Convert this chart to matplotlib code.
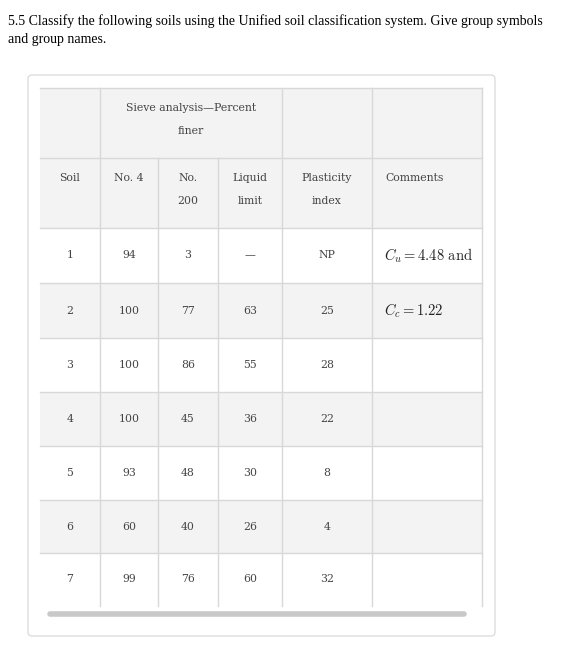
import matplotlib.pyplot as plt
from matplotlib.patches import Rectangle, FancyBboxPatch

soils = ['1', '2', '3', '4', '5', '6', '7']
no4 = ['94', '100', '100', '100', '93', '60', '99']
no200 = ['3', '77', '86', '45', '48', '40', '76']
liquid_limit = ['—', '63', '55', '36', '30', '26', '60']
plasticity = ['NP', '25', '28', '22', '8', '4', '32']
comments = [r'$C_u = \mathrm{4.48\ and}$', r'$C_c = 1.22$', '', '', '', '', '']

plt.rcParams['mathtext.fontset'] = 'cm'

fig = plt.figure(figsize=(5.81, 6.61), dpi=100)
ax = fig.add_axes([0, 0, 1, 1])
ax.set_xlim(0, 581)
ax.set_ylim(661, 0)
ax.axis('off')

serif = 'DejaVu Serif'
ax.text(8, 21, '5.5 Classify the following soils using the Unified soil classification system. Give group symbols',
        fontsize=10, family='Liberation Serif', va='center')
ax.text(8, 39, 'and group names.', fontsize=10, family='Liberation Serif', va='center')

# card
ax.add_patch(FancyBboxPatch((28, 75), 467, 561, boxstyle='round,pad=0,rounding_size=4',
                            fc='white', ec='#dddddd', lw=1))

cols = [40, 100, 158, 218, 282, 372, 482]
rows = [88, 158, 228, 283, 338, 392, 446, 500, 553, 606]
grey = '#f3f3f3'
line = '#d8d8d8'

ax.add_patch(Rectangle((cols[0], rows[0]), cols[-1] - cols[0], rows[2] - rows[0], fc=grey, ec='none'))
for i in range(7):
    if i % 2 == 1:
        ax.add_patch(Rectangle((cols[0], rows[i + 2]), cols[-1] - cols[0], rows[i + 3] - rows[i + 2],
                               fc=grey, ec='none'))
for y in rows[:-1]:
    ax.plot([cols[0], cols[-1]], [y, y], color=line, lw=1)
for x in cols[1:-1]:
    y0 = rows[1] if x in (158, 218) else rows[0]
    ax.plot([x, x], [y0, rows[-1]], color=line, lw=1)
ax.plot([cols[-1], cols[-1]], [rows[0], rows[-1]], color=line, lw=1)

fs = 7.8
tc = '#444444'
ax.text(191, 108, 'Sieve analysis—Percent', ha='center', va='center', fontsize=fs, family=serif, color=tc)
ax.text(191, 131, 'finer', ha='center', va='center', fontsize=fs, family=serif, color=tc)
heads = [('Soil', ''), ('No. 4', ''), ('No.', '200'), ('Liquid', 'limit'), ('Plasticity', 'index')]
for j, (a, b) in enumerate(heads):
    cx = (cols[j] + cols[j + 1]) / 2
    ax.text(cx, 178, a, ha='center', va='center', fontsize=fs, family=serif, color=tc)
    if b:
        ax.text(cx, 201, b, ha='center', va='center', fontsize=fs, family=serif, color=tc)
ax.text(385, 178, 'Comments', ha='left', va='center', fontsize=fs, family=serif, color=tc)

for i in range(7):
    cy = (rows[i + 2] + rows[i + 3]) / 2
    vals = [soils[i], no4[i], no200[i], liquid_limit[i], plasticity[i]]
    for j, v in enumerate(vals):
        ax.text((cols[j] + cols[j + 1]) / 2, cy, v, ha='center', va='center',
                fontsize=fs, family=serif, color=tc)
    if comments[i]:
        ax.text(384, cy, comments[i], ha='left', va='center', fontsize=10.5,
                color='#222222')

# scrollbar
ax.plot([50, 464], [614, 614], color='#c8c8c8', lw=4, solid_capstyle='round')

fig.savefig('out.png', dpi=100)
